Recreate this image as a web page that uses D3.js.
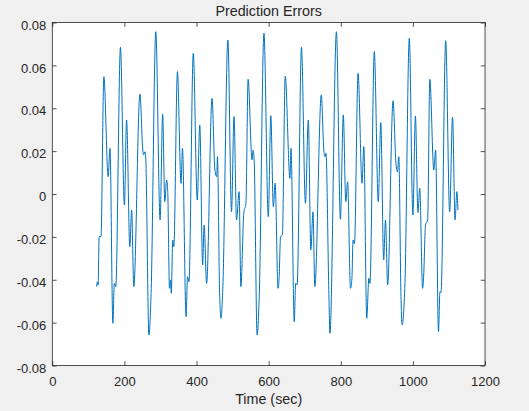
<!DOCTYPE html>
<html><head><meta charset="utf-8">
<script src="https://cdn.jsdelivr.net/npm/d3@7"></script>
<style>
body{margin:0;background:#f0f0f0;overflow:hidden}
text{font-family:"Liberation Sans",Arial,Helvetica,sans-serif;fill:#262626}
</style>
</head><body><svg id="c" width="529" height="411"></svg>
<script>
const times = [123,125,127,130,135,143,155,160,168,172,176,189,200,206,215,220,226,243,251,253,257,259,268,274,287,299,306,312,317,320,325,328,330,334,337,347,357,361,371,375,379,391,402,409,417,421,428,443,451,456,458,464,468,473,487,497,504,511,518,523,531,537,543,554,557,560,568,574,587,599,606,613,618,626,629,633,638,646,659,662,671,675,679,691,702,710,717,723,728,746,753,756,759,767,770,788,799,807,814,819,827,831,834,838,848,859,864,872,878,881,893,904,911,919,924,930,945,953,957,961,967,970,978,990,1000,1007,1014,1019,1027,1030,1035,1041,1047,1058,1063,1071,1075,1078,1091,1102,1110,1117,1122,1125];
const errors = [-0.0432,-0.0410,-0.0425,-0.0199,-0.0199,0.0547,0.0081,0.0213,-0.0603,-0.0417,-0.0432,0.0684,-0.0051,0.0345,-0.0246,-0.0075,-0.0432,0.0466,0.0205,0.0182,0.0197,0.0174,-0.0658,-0.0463,0.0757,-0.0121,0.0372,-0.0036,0.0065,0.0019,-0.0440,-0.0401,-0.0463,-0.0215,-0.0246,0.0571,0.0050,0.0213,-0.0572,-0.0386,-0.0409,0.0656,-0.0028,0.0322,-0.0331,-0.0145,-0.0417,0.0446,0.0112,0.0081,0.0174,-0.0463,-0.0580,-0.0432,0.0718,-0.0083,0.0361,-0.0121,0.0011,-0.0432,-0.0090,-0.0043,0.0535,0.0159,0.0205,0.0151,-0.0658,-0.0471,0.0750,-0.0106,0.0365,-0.0059,0.0050,-0.0440,-0.0393,-0.0199,-0.0191,0.0550,0.0073,0.0213,-0.0596,-0.0417,-0.0424,0.0684,-0.0043,0.0345,-0.0261,-0.0083,-0.0432,0.0462,0.0205,0.0174,0.0190,-0.0463,-0.0650,0.0757,-0.0118,0.0369,-0.0036,0.0057,-0.0440,-0.0393,-0.0215,-0.0233,0.0563,0.0050,0.0221,-0.0580,-0.0393,-0.0417,0.0664,-0.0036,0.0333,-0.0308,-0.0121,-0.0424,0.0435,0.0143,0.0104,0.0174,-0.0479,-0.0611,-0.0417,0.0726,-0.0098,0.0364,-0.0087,0.0027,-0.0440,-0.0378,-0.0145,-0.0121,0.0535,0.0112,0.0205,-0.0642,-0.0456,-0.0460,0.0715,-0.0083,0.0358,-0.0121,0.0011,-0.0075];
const xTicks = [0,200,400,600,800,1000,1200];
const yTicks = [-0.08,-0.06,-0.04,-0.02,0,0.02,0.04,0.06,0.08];
const yTickLabels = ["-0.08","-0.06","-0.04","-0.02","0","0.02","0.04","0.06","0.08"];
const titleText = "Prediction Errors";
const xLabelText = "Time (sec)";

const L = 52.3, R = 485, T = 22.5, B = 365.5;
const svg = d3.select("#c");
svg.append("rect").attr("width",529).attr("height",411).attr("fill","#f0f0f0");
svg.append("rect").attr("x",L).attr("y",T).attr("width",R-L).attr("height",B-T).attr("fill","#fff");

const x = d3.scaleLinear().domain([0,1200]).range([L,R]);
const y = d3.scaleLinear().domain([-0.08,0.08]).range([B,T]);

svg.append("defs").append("clipPath").attr("id","clip")
  .append("rect").attr("x",L).attr("y",T).attr("width",R-L).attr("height",B-T);

const data = times.map((t,i)=>({t, v: errors[i]}));
svg.append("path").datum(data)
  .attr("clip-path","url(#clip)")
  .attr("fill","none").attr("stroke","#0072BD").attr("stroke-width",1)
  .attr("stroke-linejoin","round")
  .attr("d", d3.line().x(d=>x(d.t)).y(d=>y(d.v)).curve(d3.curveMonotoneX));

const tk = 4.3;
function styleAxis(g){
  g.select(".domain").remove();
  g.selectAll(".tick line").attr("stroke","#262626").attr("stroke-width",0.8);
  g.selectAll(".tick text").attr("font-size","13px").attr("fill","#262626");
}
svg.append("g").attr("transform",`translate(0,${B})`)
  .call(d3.axisBottom(x).tickValues(xTicks).tickSizeInner(-tk).tickSizeOuter(0).tickPadding(11).tickFormat(d3.format("d")))
  .call(styleAxis);
svg.append("g").attr("transform",`translate(0,${T})`)
  .call(d3.axisTop(x).tickValues(xTicks).tickSizeInner(-tk).tickSizeOuter(0).tickFormat(""))
  .call(styleAxis);
const gl = svg.append("g").attr("transform",`translate(${L},0)`)
  .call(d3.axisLeft(y).tickValues(yTicks).tickSizeInner(-tk).tickSizeOuter(0).tickPadding(6).tickFormat((d,i)=>yTickLabels[i]))
  .call(styleAxis);
gl.selectAll(".tick text").attr("dy","0.51em");
svg.append("g").attr("transform",`translate(${R},0)`)
  .call(d3.axisRight(y).tickValues(yTicks).tickSizeInner(-tk).tickSizeOuter(0).tickFormat(""))
  .call(styleAxis);

svg.append("rect").attr("x",L).attr("y",T).attr("width",R-L).attr("height",B-T)
  .attr("fill","none").attr("stroke","#262626").attr("stroke-width",0.8);

svg.append("text").attr("x",(L+R)/2).attr("y",16).attr("text-anchor","middle")
  .attr("font-size","14.3px").text(titleText);
svg.append("text").attr("x",(L+R)/2).attr("y",404).attr("text-anchor","middle")
  .attr("font-size","14.3px").text(xLabelText);
</script>
</body></html>
